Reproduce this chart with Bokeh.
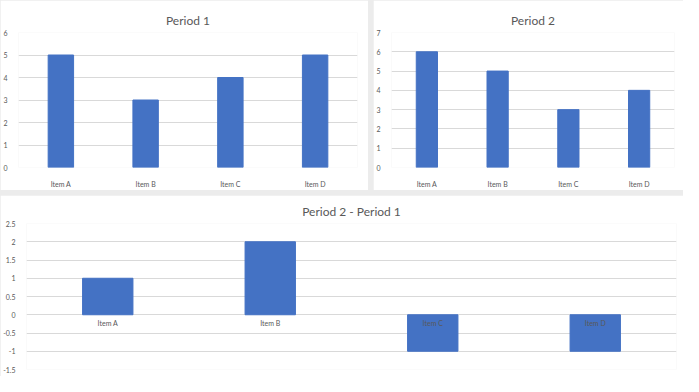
from bokeh.plotting import figure
from bokeh.layouts import row, column
from bokeh.models import FixedTicker, ColumnDataSource
from bokeh.core.properties import value
from bokeh.embed import file_html
from bokeh.resources import INLINE

items = ["Item A", "Item B", "Item C", "Item D"]
period1 = [5, 3, 4, 5]
period2 = [6, 5, 3, 4]
diff = [1, 2, -1, -1]
ticks1 = [0, 1, 2, 3, 4, 5, 6]
ticks2 = [0, 1, 2, 3, 4, 5, 6, 7]
ticks3 = [-1.5, -1, -0.5, 0, 0.5, 1, 1.5, 2, 2.5]

BAR = "#4472C4"
TXT = "#595959"
GRID = "#d9d9d9"
FONT = "Lato"


def fmt(v):
    return ("%g" % v)


def make(title, vals, ticks, w, h, borders, yr, bar_w, cat_axis=True):
    p = figure(x_range=items, y_range=yr, width=w, height=h,
               output_backend="svg", toolbar_location=None,
               min_border_left=borders[0], min_border_right=borders[1],
               min_border_top=borders[2], min_border_bottom=borders[3])
    p.title.text = title
    p.title.align = "center"
    p.title.text_font = FONT
    p.title.text_font_size = "12px"
    p.title.text_font_style = "normal"
    p.title.text_color = TXT
    p.outline_line_color = None
    p.border_fill_color = "white"
    src = ColumnDataSource(dict(x=items, top=vals))
    p.vbar(x="x", top="top", bottom=0, width=bar_w, source=src,
           fill_color=BAR, line_color=BAR)
    p.yaxis.ticker = FixedTicker(ticks=ticks)
    p.yaxis.major_label_overrides = {t: fmt(t) for t in ticks}
    p.ygrid.ticker = FixedTicker(ticks=ticks)
    p.ygrid.grid_line_color = GRID
    p.xgrid.grid_line_color = None
    for ax in (p.xaxis, p.yaxis):
        ax.axis_line_color = None
        ax.major_tick_line_color = None
        ax.minor_tick_line_color = None
        ax.major_label_text_font = FONT
        ax.major_label_text_font_size = "7px"
        ax.major_label_text_color = TXT
    p.yaxis.major_label_standoff = 5
    p.xaxis.major_label_standoff = 6
    if not cat_axis:
        p.xaxis.visible = False
        p.text(x="x", y=0, text="x", source=src, y_offset=4,
               text_font=value(FONT), text_font_size="7px",
               text_color=TXT, text_align="center", text_baseline="top")
    return p


p1 = make("Period 1", period1, ticks1, 368, 190, (15, 11, 32, 20), (0, 6), 0.3)
p2 = make("Period 2", period2, ticks2, 310, 190, (16, 9, 31, 21), (0, 7), 0.3)
p3 = make("Period 2 - Period 1", diff, ticks3, 683, 181, (24, 7, 28, 7),
          (-1.5, 2.5), 0.31, cat_axis=False)

top = row(p1, p2, spacing=5, styles={"background-color": "#ececec"})
lay = column(top, p3, spacing=5, styles={"background-color": "#ececec"})

open("out.html", "w").write(file_html(lay, INLINE))
